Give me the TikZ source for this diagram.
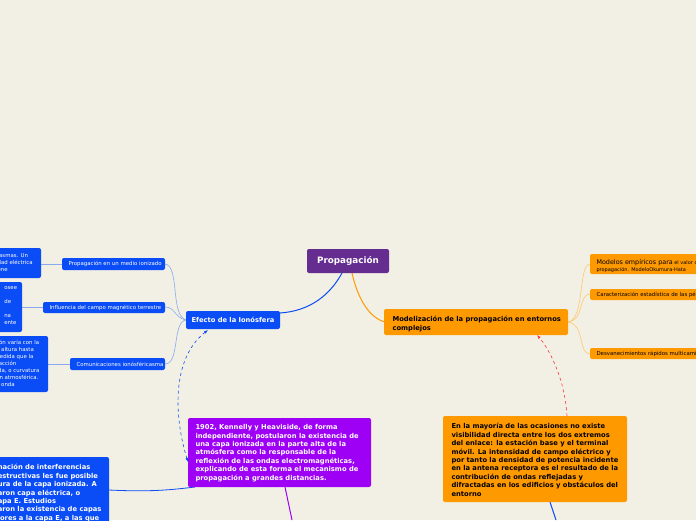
\documentclass[tikz,border=0pt]{standalone}
\usepackage{fontspec}
\setmainfont{DejaVu Sans}
\usetikzlibrary{arrows.meta}
\definecolor{bg}{HTML}{F2F0E4}
\definecolor{pur}{HTML}{662D91}
\definecolor{blu}{HTML}{0A4CF5}
\definecolor{vio}{HTML}{9D00F5}
\definecolor{ora}{HTML}{FF9900}
\definecolor{lblu}{HTML}{8AAAF0}
\definecolor{lora}{HTML}{FFC870}
\tikzset{
 box/.style={rounded corners=2pt,inner sep=0pt},
 btxt/.style={anchor=north west,align=left,font=\fontsize{6.75}{8.4}\selectfont\bfseries},
 stxt/.style={anchor=west,font=\fontsize{5.4}{6.5}\selectfont},
 ltxt/.style={anchor=north east,align=left,font=\fontsize{5.4}{6.9}\selectfont},
 thin/.style={line width=0.6pt},
}
\begin{document}
\begin{tikzpicture}[x=1pt,y=-1pt]
\useasboundingbox (0,0) rectangle (696,520);
\clip (0,0) rectangle (696,520);
\fill[bg] (0,0) rectangle (696,520);
% connectors
\draw[blu,line width=1pt] (342,273) .. controls (330,295) and (310,311) .. (280,313);
\draw[ora,line width=1pt] (352,273) .. controls (358,300) and (370,318) .. (385,322);
\draw[lblu,thin] (186,320) .. controls (170,315) and (180,266) .. (165,264);
\draw[lblu,thin] (186,320) .. controls (175,318) and (175,307) .. (165,307);
\draw[lblu,thin] (186,320) .. controls (172,322) and (180,364) .. (165,364);
\draw[lblu,thin] (62,264) -- (41,264);
\draw[lblu,thin] (43,307) -- (22,307);
\draw[lblu,thin] (70,364) -- (48,364);
\draw[lora,thin] (568,322) .. controls (585,320) and (578,264) .. (590,264);
\draw[lora,thin] (568,322) .. controls (585,320) and (578,294) .. (590,294);
\draw[lora,thin] (568,322) .. controls (585,324) and (578,354) .. (590,354);
\draw[blu,dashed,thin,{Latex[length=4pt]}-{Latex[length=4pt]}] (208,330) .. controls (170,360) and (175,420) .. (188,462);
\draw[red!70!pink,dashed,thin,-{Latex[length=4pt]}] (567,416) .. controls (565,380) and (550,350) .. (537,335);
\draw[blu,line width=0.8pt] (109,490) .. controls (150,492) and (170,490) .. (195,487);
\draw[vio,line width=1pt] (285,487) -- (292,520);
\draw[blu,line width=1pt] (550,502) -- (556,520);
% nodes
\fill[pur,box] (307,249) rectangle (389,273);
\node[white,font=\fontsize{8.8}{10}\selectfont\bfseries] (prop) at (348,261) {Propagación};
\fill[blu,box] (186,311) rectangle (280,329);
\node[white,font=\fontsize{6.7}{8}\selectfont\bfseries] (efe) at (233,320) {Efecto de la Ionósfera};
\fill[blu,box] (62,258) rectangle (165,270);
\node[white,stxt] (p1) at (65,264) {Propagación en un medio ionizado};
\fill[blu,box] (43,302) rectangle (165,313);
\node[white,stxt] (p2) at (46,307.5) {Influencia del campo magnético terrestre};
\fill[blu,box] (70,358) rectangle (165,370);
\node[white,stxt] (p3) at (73,364) {Comunicaciones ionósféricasma};
\fill[blu,box] (-5,248) rectangle (41,278);
\node[white,ltxt] (l1) at (40,250) {lasmas. Un\\dad eléctrica\\ene\phantom{xxxxxxxxx}};
\fill[blu,box] (-5,282) rectangle (22,332);
\node[white,anchor=north east,align=left,font=\fontsize{5.4}{6.9}\selectfont] (l2) at (21,283) {osee\\\mbox{}\\de\phantom{xx}\\\mbox{}\\na\phantom{xx}\\ente};
\fill[blu,box] (-5,336) rectangle (48,392);
\node[white,ltxt] (l3) at (47,337) {ción varía con la\\ la altura hasta\\medida que la\\fracción\phantom{xxxx}\\nda, o curvatura\\ión atmosférica.\\ la onda\phantom{xxxxxxxxx}};
\fill[vio,box] (188,418) rectangle (371,487);
\node[white,btxt] (pur1) at (192,421) {1902, Kennelly y Heaviside, de forma\\independiente, postularon la existencia de\\una capa ionizada en la parte alta de la\\atmósfera como la responsable de la\\reflexión de las ondas electromagnéticas,\\explicando de esta forma el mecanismo de\\propagación a grandes distancias.};
\fill[blu,box] (-5,457) rectangle (109,530);
\node[white,anchor=north east,align=left,font=\fontsize{6.75}{8.4}\selectfont\bfseries] (bl) at (105,461) {nación de interferencias\\estructivas les fue posible\\ura de la capa ionizada. A\\aron capa eléctrica, o\\apa E. Estudios\\aron la existencia de capas\\lores a la capa E, a las que};
\fill[ora,box] (384,309) rectangle (568,335);
\node[black,btxt] (mod) at (389,313) {Modelización de la propagación en entornos\\complejos};
\fill[ora,box] (590,254) rectangle (700,274);
\node[black,anchor=north west,align=left,font=\fontsize{5}{7}\selectfont] (o1) at (593,256) {{\fontsize{6.4}{7}\selectfont Modelos empíricos para} el valor d\\propagación. ModeloOkumura-Hata};
\fill[ora,box] (590,289) rectangle (700,300);
\node[black,stxt] (o2) at (593,294.5) {Caracterización estadística de las pérdidas};
\fill[ora,box] (590,348) rectangle (700,359);
\node[black,stxt] (o3) at (593,353.5) {Desvanecimientos rápidos multicamino};
\fill[ora,box] (443,416) rectangle (627,502);
\node[black,btxt] (ob) at (448,420) {En la mayoría de las ocasiones no existe\\visibilidad directa entre los dos extremos\\del enlace: la estación base y el terminal\\móvil. La intensidad de campo eléctrico y\\por tanto la densidad de potencia incidente\\en la antena receptora es el resultado de la\\contribución de ondas reflejadas y\\difractadas en los edificios y obstáculos del\\entorno};
\end{tikzpicture}
\end{document}
